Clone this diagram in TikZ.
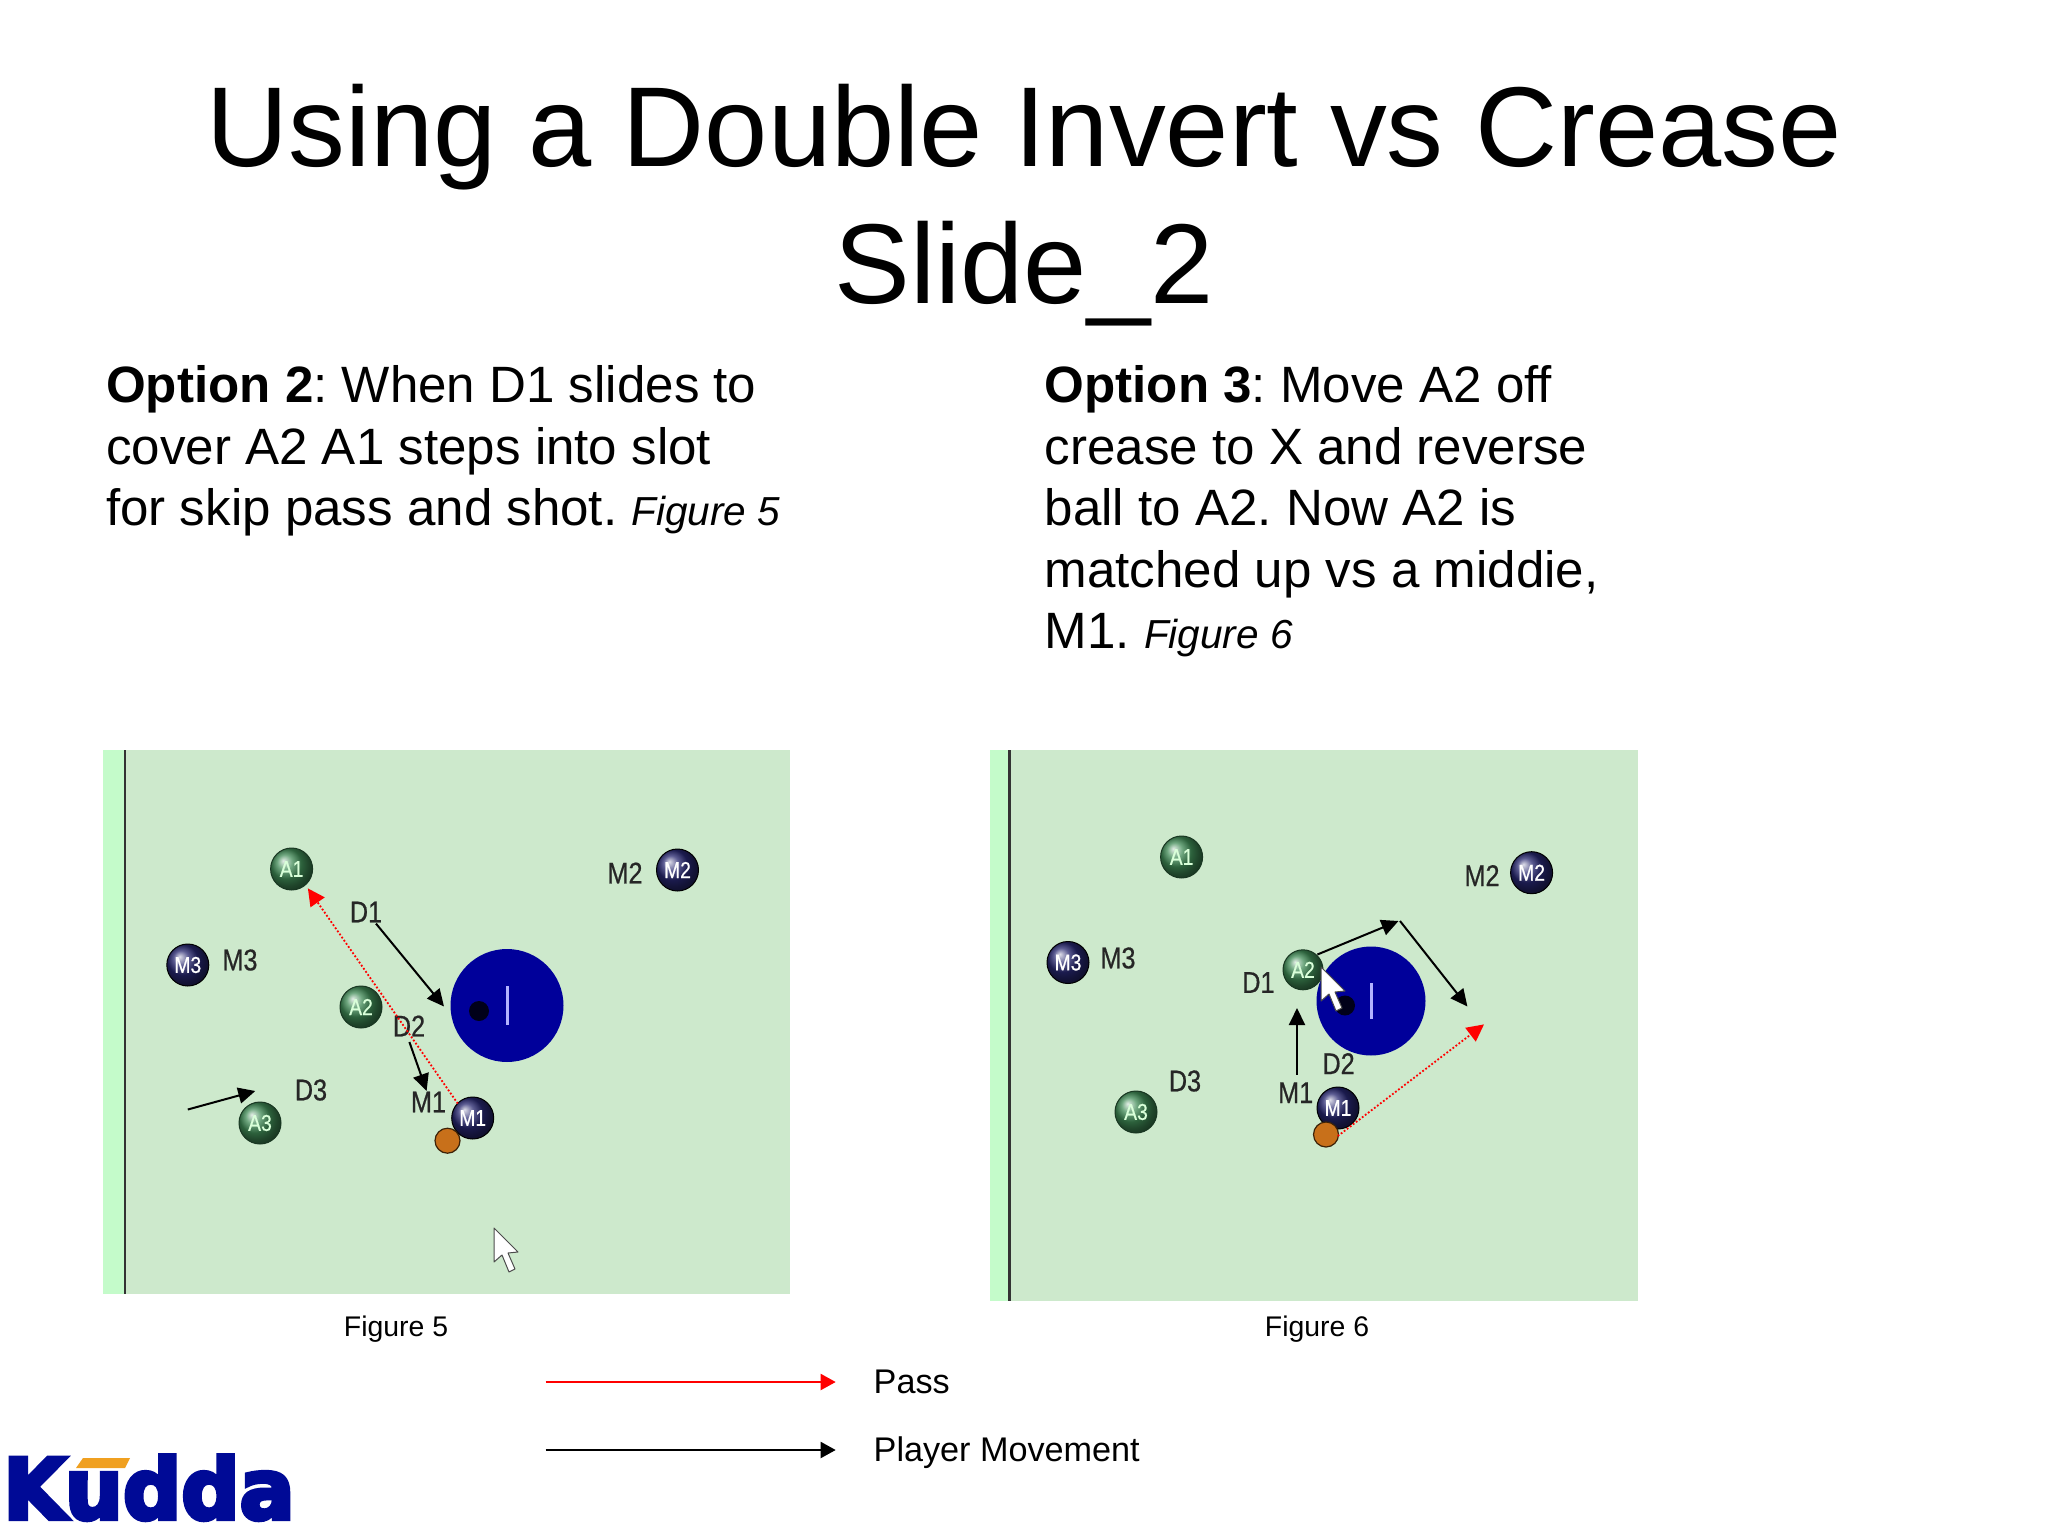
\documentclass[tikz,border=0pt]{standalone}
\usepackage{fontspec}
\usetikzlibrary{arrows.meta}
\setmainfont{Liberation Sans}
\frenchspacing
\newfontfamily\lblfont{Liberation Sans}[FakeStretch=0.84,FakeBold=0.6]
\newfontfamily\logofont{DejaVu Sans Bold}[FakeBold=5,FakeStretch=0.97]
\definecolor{fieldgreen}{HTML}{CDE9CC}
\definecolor{stripgreen}{HTML}{C4FBCA}
\definecolor{creaseblue}{HTML}{00009A}
\definecolor{ballorange}{HTML}{C8701A}
\definecolor{logoblue}{HTML}{000A96}
\definecolor{logoorange}{HTML}{F0A020}
\definecolor{ballgreen}{HTML}{3F8A55}
\definecolor{ballblue}{HTML}{26266E}
\tikzset{
  x=1pt,y=-1pt,
  titletext/.style={font=\fontsize{113.6}{136}\selectfont,anchor=base,inner sep=0},
  bodytext/.style={font=\fontsize{51.1}{61.5}\selectfont,anchor=north west,align=left,inner sep=0},
  captext/.style={font=\fontsize{28.4}{34}\selectfont,inner sep=0},
  legtext/.style={font=\fontsize{34.2}{40}\selectfont,anchor=base west,inner sep=0},
  lbl/.style={font=\lblfont\fontsize{30}{30}\selectfont,inner sep=0,text=black!85},
  attack/.style={circle,minimum size=42pt,inner sep=0,draw=black!60!ballgreen,line width=1pt,shading=ball,ball color=ballgreen,text=white!85!green,font=\lblfont\fontsize{23}{23}\selectfont},
  middie/.style={circle,minimum size=42pt,inner sep=0,draw=black,line width=1pt,shading=ball,ball color=ballblue,text=white,font=\lblfont\fontsize{23}{23}\selectfont},
  lacball/.style={circle,minimum size=25pt,inner sep=0,draw=black!70!ballorange,line width=1.2pt,fill=ballorange},
  crease/.style={circle,minimum size=113pt,inner sep=0,fill=creaseblue},
  goalball/.style={circle,minimum size=20pt,inner sep=0,fill=black!90!blue},
  goalline/.style={draw=white!70!blue,line width=3pt},
  fieldline/.style={draw=black!80,line width=2.5pt},
  move/.style={draw=black,line width=2pt,-{Triangle[length=17pt,width=16pt]}},
  pass/.style={draw=red,line width=1.8pt,dotted,-{Triangle[length=17pt,width=17pt,fill=red]}},
  legpass/.style={draw=red,line width=2pt,-{Triangle[length=15pt,width=16pt]}},
  legmove/.style={draw=black,line width=2pt,-{Triangle[length=15pt,width=16pt]}},
  cursorw/.style={fill=white,draw=black!70,line width=1pt,line join=round},
}
\begin{document}
\begin{tikzpicture}
\useasboundingbox (0,0) rectangle (2048,1536);
\fill[white] (0,0) rectangle (2048,1536);

% title
\node[titletext] (title1) at (1024,167) {Using a Double Invert vs Crease};
\node[titletext] (title2) at (1024,303) {Slide\_2};

% body
\node[bodytext] (opt2) at (106,365.5) {\textbf{Option 2}: When D1 slides to\\cover A2 A1 steps into slot\\for skip pass and shot. {\itshape\fontsize{40.5}{61.5}\selectfont Figure 5}};
\node[bodytext] (opt3) at (1044.5,365.5) {\textbf{Option 3}: Move A2 off\\crease to X and reverse\\ball to A2. Now A2 is\\matched up vs a middie,\\M1. {\itshape\fontsize{40.5}{61.5}\selectfont Figure 6}};

% figure 5 panel
\fill[stripgreen] (102.5,750) rectangle (790,1294);
\fill[fieldgreen] (125,750) rectangle (790,1294);
\draw[fieldline] (125,750) -- (125,1294);
\node[crease] (c5) at (507,1005.5) {};
\node[goalball] (g5) at (479,1011) {};
\draw[goalline] (507,986) -- (507,1025);
\node[attack] (a1) at (291.6,869) {A1};
\node[attack] (a2) at (361,1007) {A2};
\node[attack] (a3) at (260,1123) {A3};
\node[middie] (m1) at (472.7,1118) {M1};
\node[middie] (m2) at (677.5,870) {M2};
\node[middie] (m3) at (187.8,965) {M3};
\node[lacball] (b5) at (447.5,1140.7) {};
\node[lbl] (ld1) at (366,912) {D1};
\node[lbl] (ld2) at (409,1026) {D2};
\node[lbl] (ld3) at (311,1090) {D3};
\node[lbl] (lm1) at (428.5,1102) {M1};
\node[lbl] (lm2) at (625,873) {M2};
\node[lbl] (lm3) at (240,960) {M3};
\coordinate (d1s) at (376,923.6);
\coordinate (d1e) at (444,1006.5);
\coordinate (d2s) at (409.4,1042);
\coordinate (d2e) at (426.6,1091);
\coordinate (d3s) at (187.8,1109.5);
\coordinate (d3e) at (255.3,1091);
\coordinate (p5s) at (457.8,1103.6);
\coordinate (p5e) at (307.9,888.4);
\draw[move] (d1s) -- (d1e);
\draw[move] (d2s) -- (d2e);
\draw[move] (d3s) -- (d3e);
\draw[pass] (p5s) -- (p5e);
\draw[cursorw] (494,1228) -- (494,1262) -- (502,1255) -- (509,1272) -- (515,1269) -- (508,1253) -- (518,1252) -- cycle;

% figure 6 panel
\fill[stripgreen] (989.5,750) rectangle (1638,1301);
\fill[fieldgreen] (1009.5,750) rectangle (1638,1301);
\draw[fieldline] (1009.5,750) -- (1009.5,1301);
\node[crease,minimum size=109pt] (c6) at (1371,1001) {};
\node[goalball] (g6) at (1345,1005.5) {};
\draw[goalline] (1371,983) -- (1371,1019);
\node[attack] (xa1) at (1181.6,857) {A1};
\node[attack,minimum size=40pt] (xa2) at (1303,969.8) {A2};
\node[attack] (xa3) at (1136,1112) {A3};
\node[middie] (xm1) at (1338,1108) {M1};
\node[middie] (xm2) at (1531.6,872.7) {M2};
\node[middie] (xm3) at (1068,962.5) {M3};
\node[lacball] (b6) at (1326,1134.5) {};
\node[lbl] (xld1) at (1258.4,982.5) {D1};
\node[lbl] (xld2) at (1338.6,1063.6) {D2};
\node[lbl] (xld3) at (1185,1081) {D3};
\node[lbl] (xlm1) at (1295.7,1092.7) {M1};
\node[lbl] (xlm2) at (1482,875.6) {M2};
\node[lbl] (xlm3) at (1118,958) {M3};
\coordinate (up1) at (1297,1074.5);
\coordinate (up2) at (1297,1008);
\coordinate (a2s) at (1317.4,954.5);
\coordinate (a2m) at (1398.5,921);
\coordinate (a2n) at (1400,921);
\coordinate (a2e) at (1467.4,1006.5);
\coordinate (p6s) at (1337.8,1136);
\coordinate (p6e) at (1484,1024.4);
\draw[move] (up1) -- (up2);
\draw[move] (a2s) -- (a2m);
\draw[move] (a2n) -- (a2e);
\draw[pass] (p6s) -- (p6e);
\draw[cursorw] (1321,967) -- (1321,1001) -- (1329,994) -- (1336,1011) -- (1342,1008) -- (1335,992) -- (1345,991) -- cycle;

% captions
\node[captext] (cap5) at (396,1329) {Figure 5};
\node[captext] (cap6) at (1317,1329) {Figure 6};

% legend
\coordinate (lp1) at (545.7,1382);
\coordinate (lp2) at (835.7,1382);
\coordinate (lm1s) at (545.7,1450);
\coordinate (lm2s) at (835.7,1450);
\draw[legpass] (lp1) -- (lp2);
\draw[legmove] (lm1s) -- (lm2s);
\node[legtext] (legp) at (873.5,1393) {Pass};
\node[legtext] (legm) at (873.5,1461) {Player Movement};

% logo
\node[inner sep=0,anchor=base west,text=logoblue,font=\logofont\fontsize{84}{84}\selectfont] (logo) at (3,1519) {Kudda};
\fill[logoorange] (83,1458) -- (130,1458) -- (125,1468) -- (76,1468) -- cycle;
\end{tikzpicture}
\end{document}
